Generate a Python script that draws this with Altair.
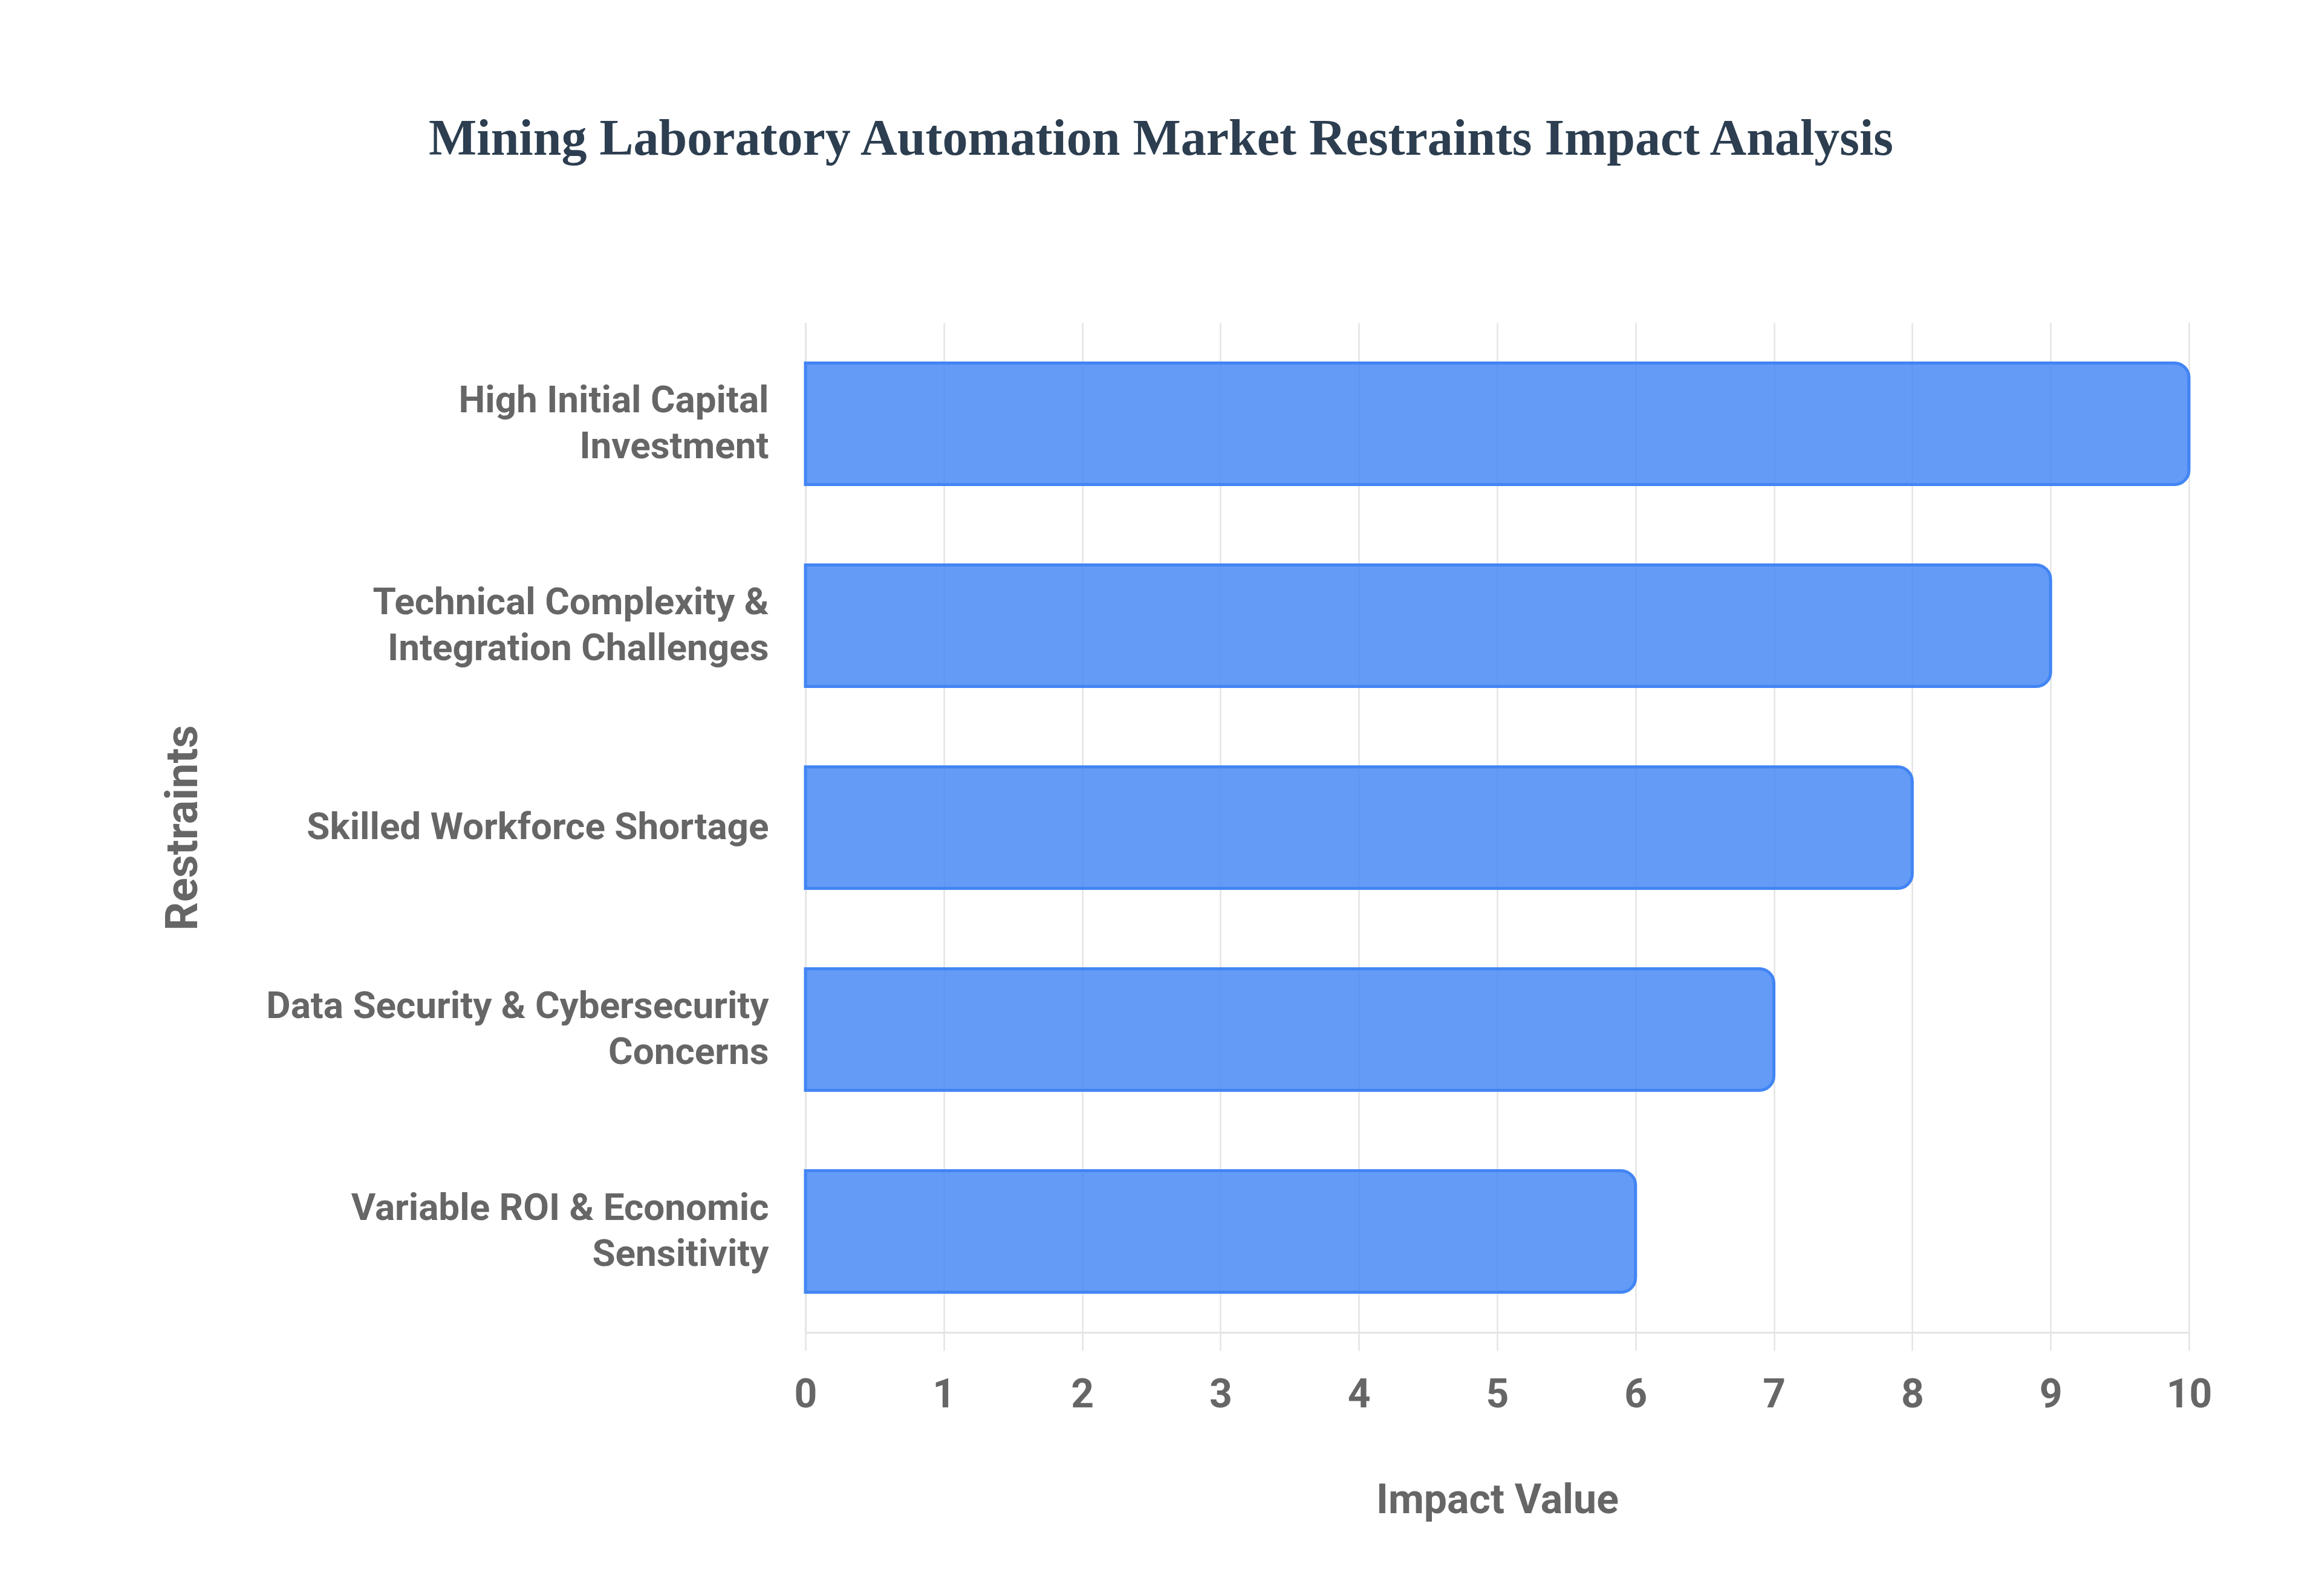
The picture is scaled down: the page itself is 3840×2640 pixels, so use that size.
import altair as alt
import pandas as pd

# Data
restraints = [
    "High Initial Capital|Investment",
    "Technical Complexity &|Integration Challenges",
    "Skilled Workforce Shortage",
    "Data Security & Cybersecurity|Concerns",
    "Variable ROI & Economic|Sensitivity",
]
impact_values = [10, 9, 8, 7, 6]
x_ticks = [0, 1, 2, 3, 4, 5, 6, 7, 8, 9, 10]

df = pd.DataFrame({"Restraint": restraints, "Impact": impact_values})

PLOT_W = 2288
PLOT_H = 1670
LABEL_FONT = "Roboto"
GRAY = "#666666"
GRID = "#e4e4e4"

bars = alt.Chart(df).mark_bar(
    fill="#4285F4",
    fillOpacity=0.82,
    stroke="#4285F4",
    strokeWidth=5,
    cornerRadiusEnd=24,
).encode(
    x=alt.X(
        "Impact:Q",
        scale=alt.Scale(domain=[0, 10], nice=False),
        axis=alt.Axis(
            title="Impact Value",
            values=x_ticks,
            format="d",
            grid=True,
            gridColor=GRID,
            gridWidth=2.5,
            ticks=True,
            tickColor=GRID,
            tickWidth=2.5,
            tickSize=30,
            domain=True,
            domainColor=GRID,
            domainWidth=3,
            labelFont=LABEL_FONT,
            labelFontSize=66,
            labelFontWeight="bold",
            labelColor=GRAY,
            labelBaseline="alphabetic",
            labelPadding=93,
            labelFlush=False,
            titleFont=LABEL_FONT,
            titleFontSize=68,
            titleFontWeight="bold",
            titleColor=GRAY,
            titleBaseline="alphabetic",
            titleAlign="center",
            titleX=PLOT_W / 2,
            titleY=298,
        ),
    ),
    y=alt.Y(
        "Restraint:N",
        sort=restraints,
        scale=alt.Scale(paddingInner=0.398, paddingOuter=0.199),
        axis=alt.Axis(
            title="Restraints",
            grid=False,
            ticks=False,
            domain=True,
            domainColor=GRID,
            domainWidth=2.5,
            labelExpr="split(datum.value, '|')",
            labelFont=LABEL_FONT,
            labelFontSize=62,
            labelFontWeight="bold",
            labelColor=GRAY,
            labelAlign="right",
            labelBaseline="middle",
            labelLineHeight=76,
            labelOffset={
                "condition": {"test": "indexof(datum.value, '|') >= 0", "value": -38},
                "value": 0,
            },
            labelPadding=61,
            labelLimit=2000,
            titleFont=LABEL_FONT,
            titleFontSize=74,
            titleFontWeight="bold",
            titleColor=GRAY,
            titleAngle=270,
            titleAlign="center",
            titleBaseline="alphabetic",
            titleX=-1007,
            titleY=PLOT_H / 2,
        ),
    ),
).properties(
    width=PLOT_W,
    height=PLOT_H,
    title=alt.TitleParams(
        text="Mining Laboratory Automation Market Restraints Impact Analysis",
        font="Liberation Serif",
        fontSize=84,
        fontWeight="bold",
        color="#2c3e50",
        anchor="middle",
        frame="group",
        baseline="alphabetic",
        offset=194,
        dx=-556,
    ),
    padding={"left": 1324, "top": 526, "right": 212, "bottom": 420},
    autosize=alt.AutoSizeParams(type="none"),
    background="white",
).configure_view(stroke=None)

chart = bars
chart.save("out.html", embed_options={"renderer": "svg", "actions": False})
